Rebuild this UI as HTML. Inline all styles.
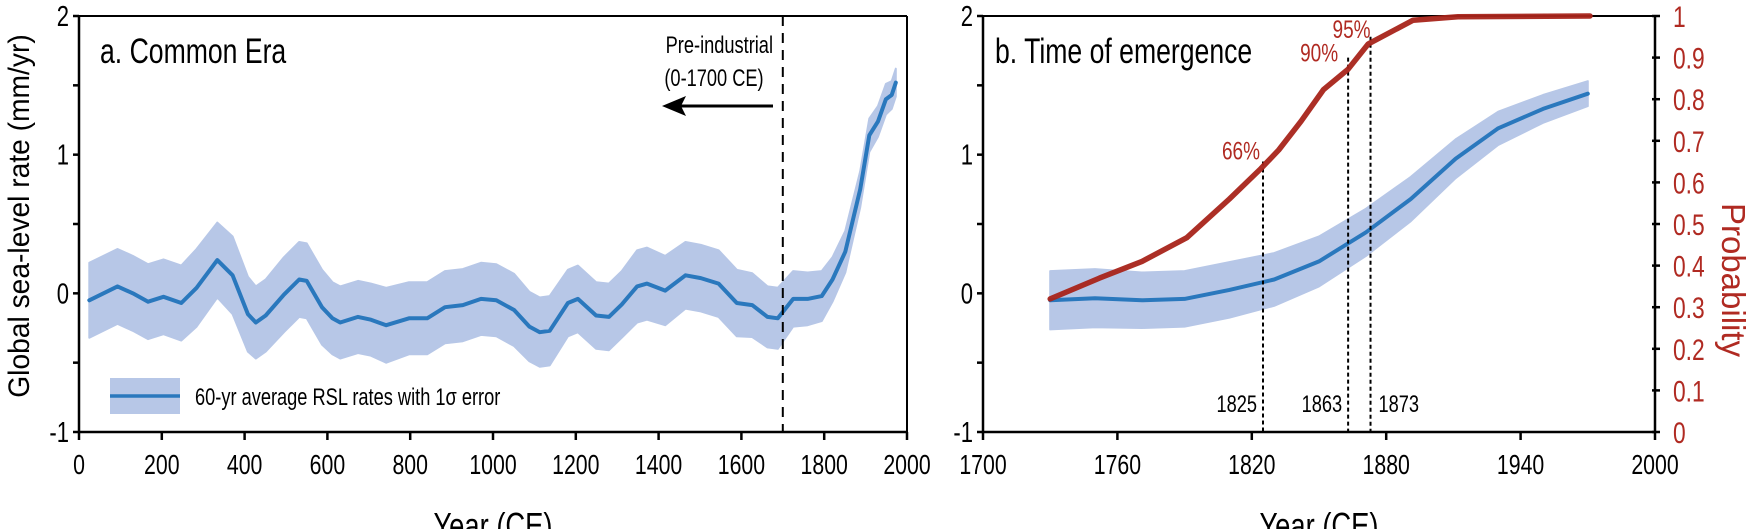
<!DOCTYPE html>
<html><head><meta charset="utf-8"><style>
html,body{margin:0;padding:0;background:#fff;}
svg{display:block;font-family:"Liberation Sans",sans-serif;}
</style></head><body>
<svg id="chart" width="1750" height="529" viewBox="0 0 1750 529" xmlns="http://www.w3.org/2000/svg">
<g id="panelA"></g>
<g id="panelB"></g>
</svg>
<script>
// Panel A data
const aYears = [25,93,130,167,204,247,284,334,371,408,427,451,495,532,550,587,612,631,674,705,742,797,841,884,927,971,1008,1051,1088,1113,1137,1181,1205,1249,1280,1311,1348,1372,1416,1465,1502,1545,1589,1626,1663,1688,1725,1760,1794,1820,1851,1887,1909,1930,1949,1963,1973];
const aMean = [-0.05,0.05,0,-0.06,-0.025,-0.07,0.04,0.24,0.13,-0.15,-0.21,-0.16,-0.01,0.10,0.09,-0.10,-0.18,-0.21,-0.17,-0.19,-0.23,-0.18,-0.18,-0.10,-0.085,-0.04,-0.05,-0.12,-0.24,-0.28,-0.27,-0.07,-0.04,-0.16,-0.17,-0.08,0.05,0.07,0.02,0.13,0.11,0.07,-0.07,-0.085,-0.17,-0.18,-0.04,-0.04,-0.02,0.10,0.30,0.75,1.14,1.24,1.40,1.43,1.52];
const aSigma = [0.27,0.27,0.27,0.27,0.27,0.27,0.28,0.27,0.28,0.27,0.26,0.26,0.27,0.27,0.27,0.27,0.26,0.26,0.26,0.26,0.27,0.26,0.26,0.26,0.26,0.26,0.26,0.26,0.25,0.25,0.25,0.24,0.24,0.24,0.24,0.24,0.26,0.26,0.25,0.24,0.24,0.24,0.24,0.23,0.22,0.22,0.20,0.19,0.18,0.16,0.15,0.13,0.12,0.11,0.11,0.10,0.10];
const aXTicks = [0,200,400,600,800,1000,1200,1400,1600,1800,2000];
const yTicks = [-1,0,1,2];
// Panel B data
const bYears = [1730,1750,1771,1790,1810,1830,1850,1871,1891,1911,1930,1950,1970];
const bMean = [-0.05,-0.035,-0.05,-0.04,0.025,0.10,0.23,0.44,0.68,0.97,1.19,1.33,1.44];
const bSigma = [0.21,0.21,0.2,0.2,0.2,0.19,0.18,0.17,0.16,0.14,0.12,0.1,0.09];
const pYears = [1730,1752,1771,1791,1810,1824,1832,1842,1852,1863,1872,1892,1912,1971];
const pVals = [0.32,0.37,0.41,0.467,0.56,0.633,0.678,0.747,0.823,0.872,0.933,0.99,0.998,1.0];
const bXTicks = [1700,1760,1820,1880,1940,2000];
const pTicks = [0,0.1,0.2,0.3,0.4,0.5,0.6,0.7,0.8,0.9,1];
const emergeYears = [1825,1863,1873];
const emergeProb = [0.66,0.90,0.95];
const pctLabels = ["66%","90%","95%"];

const NS="http://www.w3.org/2000/svg";
function mk(parent,tag,attrs,text){const e=document.createElementNS(NS,tag);for(const k in attrs)e.setAttribute(k,attrs[k]);if(text!==undefined)e.textContent=text;parent.appendChild(e);return e;}
function txt(parent,x,y,s,size,anchor,fill,sx){
  return mk(parent,"text",{transform:`translate(${x},${y}) scale(${sx||0.76},1)`,"text-anchor":anchor||"start","font-size":size,fill:fill||"#000"},s);
}
const TOP=16,BOT=432;
const yS=v=>BOT-(v+1)/3*(BOT-TOP);
const pS=p=>BOT-p*(BOT-TOP);
const AX0=79,AX1=907,BX0=983,BX1=1655;
const xA=y=>AX0+y/2000*(AX1-AX0);
const xB=y=>BX0+(y-1700)/300*(BX1-BX0);
const BLUE="#2a78bd",BAND="#b7c7e7",RED="#a8241a",REDT="#b02a22";

function band(g,xs,m,s,xf,name){
  let d="";xs.forEach((x,i)=>{d+=(i?"L":"M")+xf(x).toFixed(1)+","+yS(m[i]+s[i]).toFixed(1);});
  for(let i=xs.length-1;i>=0;i--)d+="L"+xf(xs[i]).toFixed(1)+","+yS(m[i]-s[i]).toFixed(1);
  const e=mk(g,"path",{d:d+"Z",fill:BAND,stroke:BAND,"stroke-width":2,"stroke-linejoin":"round"});
  
  
  let l="";xs.forEach((x,i)=>{l+=(i?"L":"M")+xf(x).toFixed(1)+","+yS(m[i]).toFixed(1);});
  const ln=mk(g,"path",{d:l,fill:"none",stroke:BLUE,"stroke-width":4,"stroke-linejoin":"round","stroke-linecap":"round"});
  
  
}
function leftAxis(g,x0,x1,name){
  const ax=mk(g,"path",{d:`M${x0},${TOP}V${BOT}H${x1}`,fill:"none",stroke:"#000","stroke-width":2.5});
  
  
  mk(g,"line",{x1:x0,y1:TOP,x2:x1,y2:TOP,stroke:"#000","stroke-width":2});
  for(let v=-1;v<=2;v+=0.5){mk(g,"line",{x1:x0-6,x2:x0,y1:yS(v),y2:yS(v),stroke:"#000","stroke-width":2.5});}
  yTicks.forEach(v=>{const t=txt(g,x0-10,yS(v)+10,String(v),29,"end");
    
    });
}
// Panel A
const gA=document.getElementById("panelA");
band(gA,aYears,aMean,aSigma,xA,"panel-a");
leftAxis(gA,AX0,AX1,"panel-a");
mk(gA,"line",{x1:AX1,y1:TOP,x2:AX1,y2:BOT,stroke:"#000","stroke-width":2});
aXTicks.forEach(v=>{mk(gA,"line",{x1:xA(v),x2:xA(v),y1:BOT,y2:BOT+8,stroke:"#000","stroke-width":2.5});
  const t=txt(gA,xA(v),474,String(v),28,"middle");
  
  });
let dl=mk(gA,"line",{x1:xA(1700),x2:xA(1700),y1:TOP,y2:BOT,stroke:"#000","stroke-width":2,"stroke-dasharray":"10,7"});


let t;
t=txt(gA,100,63,"a. Common Era",35);
t=txt(gA,773,53,"Pre-industrial",24,"end");
t=txt(gA,714,86,"(0-1700 CE)",24,"middle");
t=mk(gA,"line",{x1:773,x2:675,y1:106,y2:106,stroke:"#000","stroke-width":3});
mk(gA,"path",{d:"M662,106L686,96L681,106L686,116Z",fill:"#000"});
t=mk(gA,"rect",{x:110,y:378,width:70,height:36,fill:BAND});
mk(gA,"line",{x1:110,x2:180,y1:396,y2:396,stroke:BLUE,"stroke-width":3.5});
t=txt(gA,195,405,"60-yr average RSL rates with 1σ error",24);
t=txt(gA,xA(1000),538,"Year (CE)",36,"middle");
t=mk(gA,"text",{transform:"translate(29,216) rotate(-90) scale(0.94,1)","text-anchor":"middle","font-size":30},"Global sea-level rate (mm/yr)");

// Panel B
const gB=document.getElementById("panelB");
band(gB,bYears,bMean,bSigma,xB,"panel-b");
leftAxis(gB,BX0,BX1,"panel-b");
bXTicks.forEach(v=>{mk(gB,"line",{x1:xB(v),x2:xB(v),y1:BOT,y2:BOT+8,stroke:"#000","stroke-width":2.5});
  const t=txt(gB,xB(v),474,String(v),28,"middle");
  
  });
mk(gB,"line",{x1:BX1,y1:TOP,x2:BX1,y2:BOT,stroke:"#000","stroke-width":2.5});
pTicks.forEach(v=>{mk(gB,"line",{x1:BX1-3,x2:BX1+5,y1:pS(v),y2:pS(v),stroke:"#000","stroke-width":2.5});
  const t=txt(gB,1673,pS(v)+11,String(v),30,"start",REDT);
  
  });
emergeYears.forEach((y,i)=>{
  const py=pS(emergeProb[i]);
  const l=mk(gB,"line",{x1:xB(y),x2:xB(y),y1:py+(i==0?4:0),y2:BOT,stroke:"#000","stroke-width":2,"stroke-dasharray":"4,3"});
  
  
  const anchor=i==2?"start":"end";const dx=i==2?8:-6;
  const tt=txt(gB,xB(y)+dx,412,String(y),24,anchor);
  
  
});
const pctDx=[-22,-29,-19],pctDy=[2,4,1];
pctLabels.forEach((s,i)=>{const tt=txt(gB,xB(emergeYears[i])+pctDx[i],pS(emergeProb[i])+pctDy[i],s,25,"middle",REDT);
  
  });
let pd="";pYears.forEach((y,i)=>{pd+=(i?"L":"M")+xB(y).toFixed(1)+","+pS(pVals[i]).toFixed(1);});
t=mk(gB,"path",{d:pd,fill:"none",stroke:RED,"stroke-width":5.5,"stroke-linejoin":"round","stroke-linecap":"round","stroke-opacity":0.95});

t=txt(gB,995,63,"b. Time of emergence",35);
t=txt(gB,xB(1850),538,"Year (CE)",36,"middle");
t=mk(gB,"text",{transform:"translate(1722,280) rotate(90)","text-anchor":"middle","font-size":33,fill:REDT},"Probability");
</script>
</body></html>
